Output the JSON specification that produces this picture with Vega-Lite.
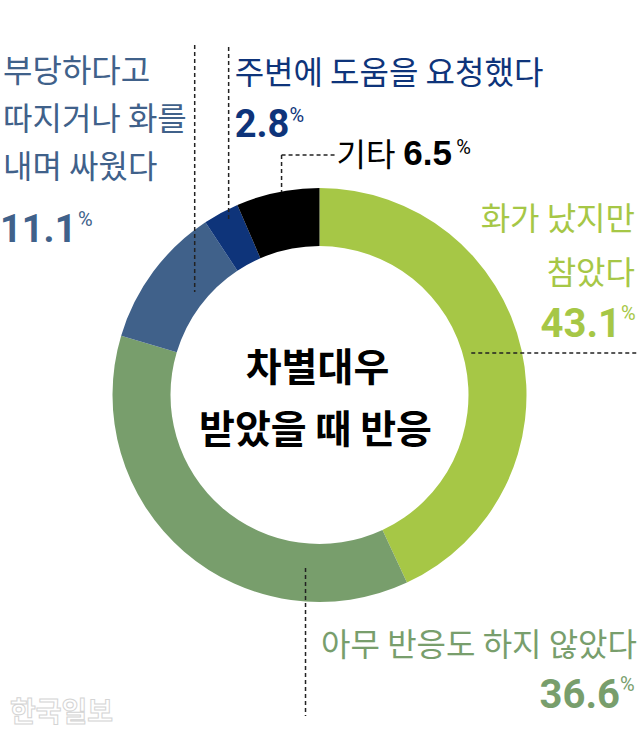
{
  "$schema": "https://vega.github.io/schema/vega-lite/v6.json",
  "width": 640,
  "height": 734,
  "autosize": {"type": "fit", "contains": "padding"},
  "padding": 0,
  "background": "white",
  "config": {"view": {"stroke": null}},
  "datasets": {
    "answers": [
      {"resp": "화가 났지만 참았다", "pct": 43.1, "ord": 1},
      {"resp": "아무 반응도 하지 않았다", "pct": 36.6, "ord": 2},
      {"resp": "부당하다고 따지거나 화를 내며 싸웠다", "pct": 11.1, "ord": 3},
      {"resp": "주변에 도움을 요청했다", "pct": 2.8, "ord": 4},
      {"resp": "기타", "pct": 6.5, "ord": 5}
    ],
    "leaders": [
      {"x": 195, "y": 45, "x2": 195, "y2": 292},
      {"x": 229, "y": 47, "x2": 229, "y2": 222},
      {"x": 282, "y": 155, "x2": 337, "y2": 155},
      {"x": 282, "y": 155, "x2": 282, "y2": 192},
      {"x": 472, "y": 353, "x2": 640, "y2": 353},
      {"x": 306, "y": 568, "x2": 306, "y2": 716}
    ],
    "labelsLeft": [
      {"t": "부당하다고", "x": 3, "y": 82, "resp": "부당하다고 따지거나 화를 내며 싸웠다"},
      {"t": "따지거나 화를", "x": 3, "y": 130, "resp": "부당하다고 따지거나 화를 내며 싸웠다"},
      {"t": "내며 싸웠다", "x": 3, "y": 178, "resp": "부당하다고 따지거나 화를 내며 싸웠다"},
      {"t": "주변에 도움을 요청했다", "x": 235, "y": 84, "resp": "주변에 도움을 요청했다"},
      {"t": "기타", "x": 337, "y": 166, "resp": "기타"}
    ],
    "labelsRight": [
      {"t": "화가 났지만", "x": 636, "y": 230, "resp": "화가 났지만 참았다"},
      {"t": "참았다", "x": 636, "y": 284, "resp": "화가 났지만 참았다"},
      {"t": "아무 반응도 하지 않았다", "x": 638, "y": 656, "resp": "아무 반응도 하지 않았다"}
    ],
    "numsLeft": [
      {"t": "11.1", "x": 0, "y": 242, "resp": "부당하다고 따지거나 화를 내며 싸웠다"},
      {"t": "2.8", "x": 235, "y": 137, "resp": "주변에 도움을 요청했다"}
    ],
    "numsRight": [
      {"t": "43.1", "x": 622, "y": 337, "resp": "화가 났지만 참았다"},
      {"t": "36.6", "x": 621, "y": 708, "resp": "아무 반응도 하지 않았다"}
    ],
    "numEtc": [
      {"t": "6.5", "x": 404, "y": 165, "resp": "기타"}
    ],
    "pcts": [
      {"t": "%", "x": 78, "y": 210, "resp": "부당하다고 따지거나 화를 내며 싸웠다"},
      {"t": "%", "x": 290, "y": 106, "resp": "주변에 도움을 요청했다"},
      {"t": "%", "x": 457, "y": 138, "resp": "기타"},
      {"t": "%", "x": 622, "y": 304, "resp": "화가 났지만 참았다"},
      {"t": "%", "x": 621, "y": 675, "resp": "아무 반응도 하지 않았다"}
    ],
    "center": [
      {"t": "차별대우", "x": 318, "y": 381},
      {"t": "받았을 때 반응", "x": 316, "y": 443}
    ],
    "credit": [
      {"t": "한국일보", "x": 10, "y": 722}
    ]
  },
  "layer": [
    {
      "data": {"name": "answers"},
      "mark": {"type": "arc", "outerRadius": 207, "innerRadius": 149},
      "encoding": {
        "x": {"datum": 320, "type": "quantitative", "scale": {"domain": [0, 640], "nice": false, "zero": false}, "axis": null},
        "y": {"datum": 395, "type": "quantitative", "scale": {"domain": [0, 734], "nice": false, "zero": false, "reverse": true}, "axis": null},
        "theta": {"field": "pct", "type": "quantitative", "stack": true},
        "order": {"field": "ord"},
        "color": {
          "field": "resp",
          "type": "nominal",
          "legend": null,
          "scale": {
            "domain": ["화가 났지만 참았다", "아무 반응도 하지 않았다", "부당하다고 따지거나 화를 내며 싸웠다", "주변에 도움을 요청했다", "기타"],
            "range": ["#a6c746", "#789e6c", "#40618a", "#0e347a", "#000000"]
          }
        }
      }
    },
    {
      "data": {"name": "leaders"},
      "mark": {"type": "rule", "color": "#222222", "strokeWidth": 1.5, "strokeDash": [4, 3]},
      "encoding": {
        "x": {"field": "x", "type": "quantitative"},
        "y": {"field": "y", "type": "quantitative"},
        "x2": {"field": "x2"},
        "y2": {"field": "y2"}
      }
    },
    {
      "data": {"name": "labelsLeft"},
      "mark": {"type": "text", "align": "left", "baseline": "alphabetic", "font": "Noto Sans CJK KR", "fontSize": 32},
      "encoding": {
        "x": {"field": "x", "type": "quantitative"},
        "y": {"field": "y", "type": "quantitative"},
        "text": {"field": "t"},
        "color": {"field": "resp", "type": "nominal", "legend": null}
      }
    },
    {
      "data": {"name": "labelsRight"},
      "mark": {"type": "text", "align": "right", "baseline": "alphabetic", "font": "Noto Sans CJK KR", "fontSize": 32},
      "encoding": {
        "x": {"field": "x", "type": "quantitative"},
        "y": {"field": "y", "type": "quantitative"},
        "text": {"field": "t"},
        "color": {"field": "resp", "type": "nominal", "legend": null}
      }
    },
    {
      "data": {"name": "numsLeft"},
      "mark": {"type": "text", "align": "left", "baseline": "alphabetic", "font": "Roboto, sans-serif", "fontWeight": "bold", "fontSize": 38},
      "encoding": {
        "x": {"field": "x", "type": "quantitative"},
        "y": {"field": "y", "type": "quantitative"},
        "text": {"field": "t"},
        "color": {"field": "resp", "type": "nominal", "legend": null}
      }
    },
    {
      "data": {"name": "numsRight"},
      "mark": {"type": "text", "align": "right", "baseline": "alphabetic", "font": "Roboto, sans-serif", "fontWeight": "bold", "fontSize": 40},
      "encoding": {
        "x": {"field": "x", "type": "quantitative"},
        "y": {"field": "y", "type": "quantitative"},
        "text": {"field": "t"},
        "color": {"field": "resp", "type": "nominal", "legend": null}
      }
    },
    {
      "data": {"name": "numEtc"},
      "mark": {"type": "text", "align": "left", "baseline": "alphabetic", "font": "Liberation Sans", "fontWeight": "bold", "fontSize": 35},
      "encoding": {
        "x": {"field": "x", "type": "quantitative"},
        "y": {"field": "y", "type": "quantitative"},
        "text": {"field": "t"},
        "color": {"field": "resp", "type": "nominal", "legend": null}
      }
    },
    {
      "data": {"name": "pcts"},
      "mark": {"type": "text", "align": "left", "baseline": "top", "font": "Roboto, sans-serif", "fontSize": 20},
      "encoding": {
        "x": {"field": "x", "type": "quantitative"},
        "y": {"field": "y", "type": "quantitative"},
        "text": {"field": "t"},
        "color": {"field": "resp", "type": "nominal", "legend": null}
      }
    },
    {
      "data": {"name": "center"},
      "mark": {"type": "text", "align": "center", "baseline": "alphabetic", "font": "Noto Sans CJK KR", "fontWeight": "bold", "fontSize": 39, "color": "#000000"},
      "encoding": {
        "x": {"field": "x", "type": "quantitative"},
        "y": {"field": "y", "type": "quantitative"},
        "text": {"field": "t"}
      }
    },
    {
      "data": {"name": "credit"},
      "mark": {"type": "text", "align": "left", "baseline": "alphabetic", "font": "Noto Sans CJK KR", "fontWeight": "bold", "fontSize": 28, "fill": "#ffffff", "stroke": "#d4d4d4", "strokeWidth": 1},
      "encoding": {
        "x": {"field": "x", "type": "quantitative"},
        "y": {"field": "y", "type": "quantitative"},
        "text": {"field": "t"}
      }
    }
  ]
}
